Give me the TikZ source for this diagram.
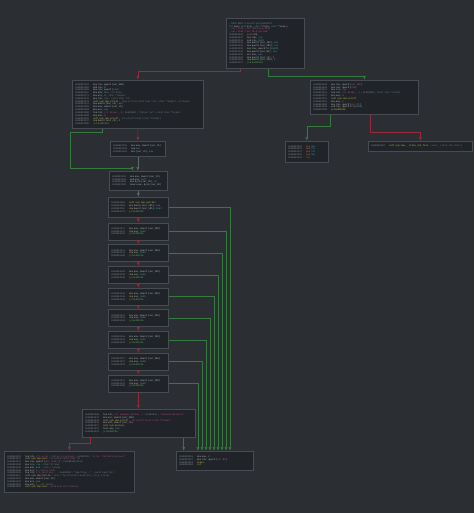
\documentclass[tikz,border=0pt]{standalone}
\usepackage{fontspec}
\setmonofont{DejaVu Sans Mono}
\usetikzlibrary{positioning,arrows.meta,calc}

\definecolor{bgc}{HTML}{2B2E32}
\definecolor{blkfill}{HTML}{202327}
\definecolor{blkline}{HTML}{464C52}
\definecolor{txtc}{HTML}{B4B8BC}
\definecolor{addrc}{HTML}{80868C}
\definecolor{callc}{HTML}{CDBD48}
\definecolor{jmpc}{HTML}{58B058}
\definecolor{regc}{HTML}{3FA0AE}
\definecolor{cmtc}{HTML}{727D8A}
\definecolor{strc}{HTML}{B44C82}
\definecolor{pushc}{HTML}{C86A48}
\definecolor{yesc}{HTML}{357A3E}
\definecolor{noc}{HTML}{962A3A}
\definecolor{jmpline}{HTML}{5C6A64}

\newcommand{\Ad}[1]{\textcolor{addrc}{#1}\hspace{0.08cm}}
\newcommand{\Cl}[1]{\textcolor{callc}{#1}}
\newcommand{\Jm}[1]{\textcolor{jmpc}{#1}}
\newcommand{\Rg}[1]{\textcolor{regc}{#1}}
\newcommand{\Cm}[1]{\textcolor{cmtc}{#1}}
\newcommand{\St}[1]{\textcolor{strc}{#1}}
\newcommand{\Pu}[1]{\textcolor{pushc}{#1}}

\begin{document}
\begin{tikzpicture}[
    x=0.02cm, y=-0.02cm,
    blk/.style={
        rectangle,
        draw=blkline,
        fill=blkfill,
        line width=0.4pt,
        anchor=north west,
        align=left,
        inner sep=0.06cm,
        text=txtc,
        font=\fontsize{1.3}{1.6}\selectfont\ttfamily
    },
    casebox/.style={blk, text width=1.08cm, minimum height=0.34cm},
    edge/.style={-{Latex[length=0.8mm,width=0.6mm]}, line width=0.35pt},
    yes/.style={edge, draw=yesc},
    no/.style={edge, draw=noc},
    jmp/.style={edge, draw=jmpline}
]

\fill[bgc] (0,0) rectangle (474,513);
\useasboundingbox (0,0) rectangle (474,513);

%% ===== ENTRY =====
\node[blk, text width=1.44cm, minimum height=1.0cm] (fmain) at (226,18) {%
\Cm{; DATA XREF from entry0 @ 0x401071}\\
\Rg{int} main (\Rg{int} argc, \Rg{char} **argv, \Rg{char} **envp);\\
\St{; var int64\_t var\_20h @ rbp-0x20}\\
\St{; var int64\_t var\_8h @ rbp-0x8}\\
\Ad{0x00401136}\Pu{push} rbp\\
\Ad{0x00401137}mov rbp, \Rg{rsp}\\
\Ad{0x0040113a}sub rsp, \Rg{0x20}\\
\Ad{0x0040113e}mov dword [var\_14h], \Rg{edi}\\
\Ad{0x00401141}mov qword [var\_20h], \Rg{rsi}\\
\Ad{0x00401145}mov rax, qword fs:[\Rg{0x28}]\\
\Ad{0x0040114e}mov qword [var\_8h], \Rg{rax}\\
\Ad{0x00401152}xor eax, \Rg{eax}\\
\Ad{0x00401154}mov dword [var\_ch], \Rg{0}\\
\Ad{0x0040115b}\Cl{cmp} dword [var\_14h], \Rg{2}\\
\Ad{0x0040115f}\Jm{jne 0x4012e0}};

%% ===== LEFT BRANCH =====
\node[blk, text width=2.5cm, minimum height=0.96cm] (leftb) at (72,80) {%
\Ad{0x00401161}mov rax, qword [var\_20h]\\
\Ad{0x00401165}add rax, \Rg{8}\\
\Ad{0x00401169}mov rax, qword [\Rg{rax}]\\
\Ad{0x0040116c}mov edx, \Rg{0xa} \Cm{; int base}\\
\Ad{0x00401171}mov esi, \Rg{0} \Cm{; char **endptr}\\
\Ad{0x00401176}mov rdi, \Rg{rax} \Cm{; const char *str}\\
\Ad{0x00401179}\Cl{call sym.imp.strtol} \Cm{; long strtol(const char *str, char **endptr, int base)}\\
\Ad{0x0040117e}mov dword [var\_ch], \Rg{eax}\\
\Ad{0x00401181}mov eax, dword [var\_ch]\\
\Ad{0x00401184}mov esi, \Rg{eax}\\
\Ad{0x00401186}lea rdi, \St{str.Value:\_\_d} \Cm{; 0x402004 ; "Value: \%d" ; const char *format}\\
\Ad{0x0040118d}mov eax, \Rg{0}\\
\Ad{0x00401192}\Cl{call sym.imp.printf} \Cm{; int printf(const char *format)}\\
\Ad{0x00401197}\Cl{cmp} dword [var\_ch], \Rg{0}\\
\Ad{0x0040119b}\Jm{jns 0x4011a5}};

\node[blk, text width=0.98cm, minimum height=0.3cm] (thenb) at (110,141) {%
\Ad{0x0040119d}mov eax, dword [var\_ch]\\
\Ad{0x004011a0}neg \Rg{eax}\\
\Ad{0x004011a2}mov [var\_ch], \Rg{eax}};

\node[blk, text width=1.04cm, minimum height=0.38cm] (joinb) at (109,171) {%
\Ad{0x004011a5}mov eax, dword [var\_ch]\\
\Ad{0x004011a8}and eax, \Rg{0xff}\\
\Ad{0x004011ad}mov byte [var\_dh], \Rg{al}\\
\Ad{0x004011b0}movzx eax, byte [var\_dh]};

\node[blk, text width=1.08cm, minimum height=0.4cm] (callb) at (108,197) {%
\Ad{0x004011b4}\Cl{call sym.imp.getchar}\\
\Ad{0x004011b9}mov dword [var\_10h], \Rg{eax}\\
\Ad{0x004011bc}\Cl{cmp} dword [var\_10h], \Rg{0x61}\\
\Ad{0x004011c0}\Jm{je 0x40125a}};

%% ===== CASE CHAIN =====
\node[casebox, below=0.1cm of callb] (c1) {%
\Ad{0x004011c2}mov eax, dword [var\_10h]\\
\Ad{0x004011c5}\Cl{cmp} eax, \Rg{0x62}\\
\Ad{0x004011c8}\Jm{je 0x40125a}};
\node[casebox, below=0.08cm of c1] (c2) {%
\Ad{0x004011ca}mov eax, dword [var\_10h]\\
\Ad{0x004011cd}\Cl{cmp} eax, \Rg{0x63}\\
\Ad{0x004011d0}\Jm{je 0x40125a}};
\node[casebox, below=0.08cm of c2] (c3) {%
\Ad{0x004011d2}mov eax, dword [var\_10h]\\
\Ad{0x004011d5}\Cl{cmp} eax, \Rg{0x64}\\
\Ad{0x004011d8}\Jm{je 0x40125a}};
\node[casebox, below=0.08cm of c3] (c4) {%
\Ad{0x004011da}mov eax, dword [var\_10h]\\
\Ad{0x004011dd}\Cl{cmp} eax, \Rg{0x65}\\
\Ad{0x004011e0}\Jm{je 0x40125a}};
\node[casebox, below=0.08cm of c4] (c5) {%
\Ad{0x004011e2}mov eax, dword [var\_10h]\\
\Ad{0x004011e5}\Cl{cmp} eax, \Rg{0x66}\\
\Ad{0x004011e8}\Jm{je 0x40125a}};
\node[casebox, below=0.08cm of c5] (c6) {%
\Ad{0x004011ea}mov eax, dword [var\_10h]\\
\Ad{0x004011ed}\Cl{cmp} eax, \Rg{0x67}\\
\Ad{0x004011f0}\Jm{je 0x40125a}};
\node[casebox, below=0.08cm of c6] (c7) {%
\Ad{0x004011f2}mov eax, dword [var\_10h]\\
\Ad{0x004011f5}\Cl{cmp} eax, \Rg{0x68}\\
\Ad{0x004011f8}\Jm{je 0x40125a}};
\node[casebox, below=0.08cm of c7] (c8) {%
\Ad{0x004011fa}mov eax, dword [var\_10h]\\
\Ad{0x004011fd}\Cl{cmp} eax, \Rg{0x69}\\
\Ad{0x00401200}\Jm{je 0x40125a}};

%% ===== DEFAULT / EXIT =====
\node[blk, text width=2.14cm, minimum height=0.56cm] (bigb) at (82,409) {%
\Ad{0x0040120a}lea rdi, \St{str.unknown\_option\_\_c} \Cm{; 0x402010 ;} \St{"unknown option \%c"}\\
\Ad{0x00401211}mov esi, dword [var\_10h]\\
\Ad{0x00401214}\Cl{call sym.imp.printf} \St{; int printf(const char *format)}\\
\Ad{0x00401219}mov edi, dword [var\_ch]\\
\Ad{0x0040121c}\Cl{call sym.process}\\
\Ad{0x00401221}test eax, \Rg{eax}\\
\Ad{0x00401223}\Jm{je 0x40125a}};

\node[blk, text width=2.48cm, minimum height=0.82cm] (botl) at (4,451) {%
\Ad{0x00401225}lea rdi, \St{str.error:\_failed\_to\_process} \Cm{; 0x402028 ;} \St{"error: failed to process"}\\
\Ad{0x0040122c}\Cl{call sym.imp.puts} \Cm{; int puts(const char *s)}\\
\Ad{0x00401231}mov rax, qword [\St{obj.stderr}] \Cm{; [0x404060:8]=0}\\
\Ad{0x00401238}mov rcx, \Rg{rax} \Cm{; FILE *stream}\\
\Ad{0x0040123b}mov edx, \Rg{0xb} \Cm{; size\_t nitems}\\
\Ad{0x00401240}mov esi, \Rg{1} \Cm{; size\_t size}\\
\Ad{0x00401245}lea rdi, \St{str.aborting...} \Cm{; 0x402041 ; "aborting..." ; const void *ptr}\\
\Ad{0x0040124c}\Cl{call sym.imp.fwrite} \Cm{; size\_t fwrite(const void *ptr, size\_t size)}\\
\Ad{0x00401251}mov eax, dword [var\_ch]\\
\Ad{0x00401254}mov esi, \Rg{eax}\\
\Ad{0x00401256}mov edi, \Rg{1} \Cm{; int status}\\
\Ad{0x0040125b}\Cl{call sym.imp.exit} \St{; void exit(int status)}};

\node[blk, text width=1.42cm, minimum height=0.38cm] (botr) at (176,451) {%
\Ad{0x0040125a}mov eax, \Rg{0}\\
\Ad{0x0040125f}mov rdx, qword [\St{var\_8h}]\\
\Ad{0x00401263}\Cl{leave}\\
\Ad{0x00401264}\Cl{ret}};

%% ===== RIGHT BRANCH =====
\node[blk, text width=2.04cm, minimum height=0.68cm] (rightb) at (310,80) {%
\Ad{0x004012e0}mov rax, qword [\St{var\_20h}]\\
\Ad{0x004012e4}mov rax, qword [\Rg{rax}]\\
\Ad{0x004012e7}mov rsi, \Rg{rax}\\
\Ad{0x004012ea}lea rdi, \St{str.Usage:\_\_s} \Cm{; 0x402004 ; const char *format}\\
\Ad{0x004012f1}mov eax, \Rg{0}\\
\Ad{0x004012f6}\Cl{call sym.imp.printf}\\
\Ad{0x004012fb}mov eax, \Rg{1}\\
\Ad{0x00401300}mov rdx, qword [\St{var\_8h}]\\
\Ad{0x00401304}sub rdx, qword fs:[\Rg{0x28}]\\
\Ad{0x0040130d}\Cl{je 0x401314}};

\node[blk, text width=0.74cm, minimum height=0.42cm] (smallr) at (285,141) {%
\Ad{0x00401314}\Pu{pop} \Rg{rbx}\\
\Ad{0x00401315}\Pu{pop} \Rg{r12}\\
\Ad{0x00401317}\Pu{pop} \Rg{r13}\\
\Ad{0x00401319}\Pu{pop} \Rg{rbp}\\
\Ad{0x0040131a}\Pu{ret}};

\node[blk, text width=1.96cm, minimum height=0.2cm] (farr) at (368,141) {%
\Ad{0x0040130f}\Cl{call sym.imp.\_\_stack\_chk\_fail} \Cm{; void \_\_stack\_chk\_fail()}};

%% ===== EDGES =====
\draw[no] ($(fmain.south west)+(14,0)$) -- ++(0,3) -| (leftb.north);
\draw[yes] ($(fmain.south west)+(42,0)$) -- ++(0,8) -| (rightb.north);

\draw[no] (leftb.south) -- (thenb.north);
\draw[yes] ($(leftb.south west)+(30,0)$) -- ++(0,4) -- ++(-32,0) -- ++(0,36)
  -| ($(joinb.north)+(-6,0)$);
\draw[jmp] (thenb.south) -- (thenb.south |- joinb.north);
\draw[jmp] (joinb.south) -- (joinb.south |- callb.north);

\draw[yes] ($(rightb.south west)+(20,0)$) -- ++(0,12) -| (smallr.north);
\draw[no] ($(rightb.south west)+(60,0)$) -- ++(0,18) -| (farr.north);

\draw[no] (callb.south) -- (c1.north);
\draw[no] (c1.south) -- (c2.north);
\draw[no] (c2.south) -- (c3.north);
\draw[no] (c3.south) -- (c4.north);
\draw[no] (c4.south) -- (c5.north);
\draw[no] (c5.south) -- (c6.north);
\draw[no] (c6.south) -- (c7.north);
\draw[no] (c7.south) -- (c8.north);
\draw[no] (c8.south) -- (c8.south |- bigb.north);

\draw[yes] (callb.east) -| ($(botr.north west)+(54,0)$);
\draw[yes] (c1.east) -| ($(botr.north west)+(50,0)$);
\draw[yes] (c2.east) -| ($(botr.north west)+(46,0)$);
\draw[yes] (c3.east) -| ($(botr.north west)+(42,0)$);
\draw[yes] (c4.east) -| ($(botr.north west)+(38,0)$);
\draw[yes] (c5.east) -| ($(botr.north west)+(34,0)$);
\draw[yes] (c6.east) -| ($(botr.north west)+(30,0)$);
\draw[yes] (c7.east) -| ($(botr.north west)+(26,0)$);
\draw[yes] (c8.east) -| ($(botr.north west)+(22,0)$);

\draw[no] ($(bigb.south west)+(8,0)$) -- ++(0,6) -| (botl.north);
\draw[yes] ($(bigb.south east)+(-12,0)$) coordinate (bg) -- (bg |- botr.north);

\end{tikzpicture}
\end{document}
